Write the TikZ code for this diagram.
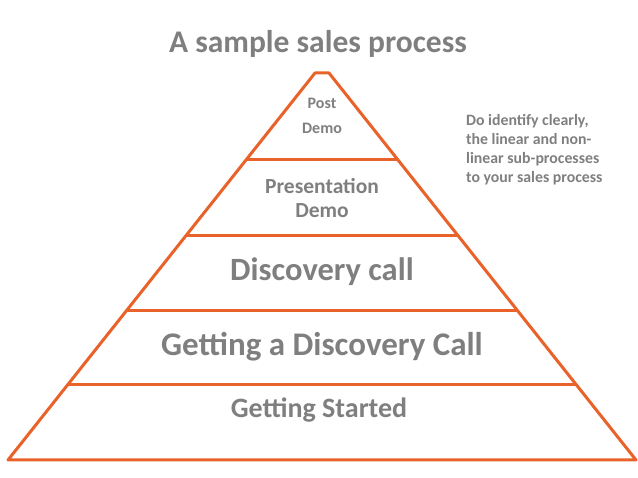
\documentclass[tikz,border=0pt]{standalone}
\usepackage{fontspec}
\setmainfont{Carlito}
\definecolor{org}{HTML}{E8622A}
\definecolor{txt}{HTML}{7F7F7F}
\begin{document}
\begin{tikzpicture}[x=1pt,y=-1pt,
  lbl/.style={text=txt,font=\bfseries,align=center,inner sep=0pt},
  edge/.style={draw=org,line width=3pt,line join=round}]
\useasboundingbox (0,0) rectangle (638,478);
\coordinate (tl) at (315,73); \coordinate (tr) at (329,73);
\coordinate (bl) at (8,460); \coordinate (br) at (636,460);
\draw[edge] (tl) -- (tr) -- (br) -- (bl) -- cycle;
\draw[edge] (246,160) -- (398,160);
\draw[edge] (185.7,236) -- (458.3,236);
\draw[edge] (126.2,311) -- (517.8,311);
\draw[edge] (67.5,385) -- (576.5,385);
\node[lbl,font=\bfseries\fontsize{31.5}{36}\selectfont] (title) at (318,44) {A sample sales process};
\node[lbl,font=\bfseries\fontsize{16}{25}\selectfont] (post) at (322,116) {Post\\Demo};
\node[lbl,font=\bfseries\fontsize{21.5}{24}\selectfont] (pres) at (322,198) {Presentation\\Demo};
\node[lbl,font=\bfseries\fontsize{32.5}{36}\selectfont] (disc) at (322,272) {Discovery call};
\node[lbl,font=\bfseries\fontsize{33}{36}\selectfont] (get) at (322,347) {Getting a Discovery Call};
\node[lbl,font=\bfseries\fontsize{28}{32}\selectfont] (start) at (319,410) {Getting Started};
\node[lbl,align=left,anchor=west,font=\bfseries\fontsize{15.8}{19}\selectfont] (note) at (466,150) {Do identify clearly,\\the linear and non-\\linear sub-processes\\to your sales process};
\end{tikzpicture}
\end{document}
